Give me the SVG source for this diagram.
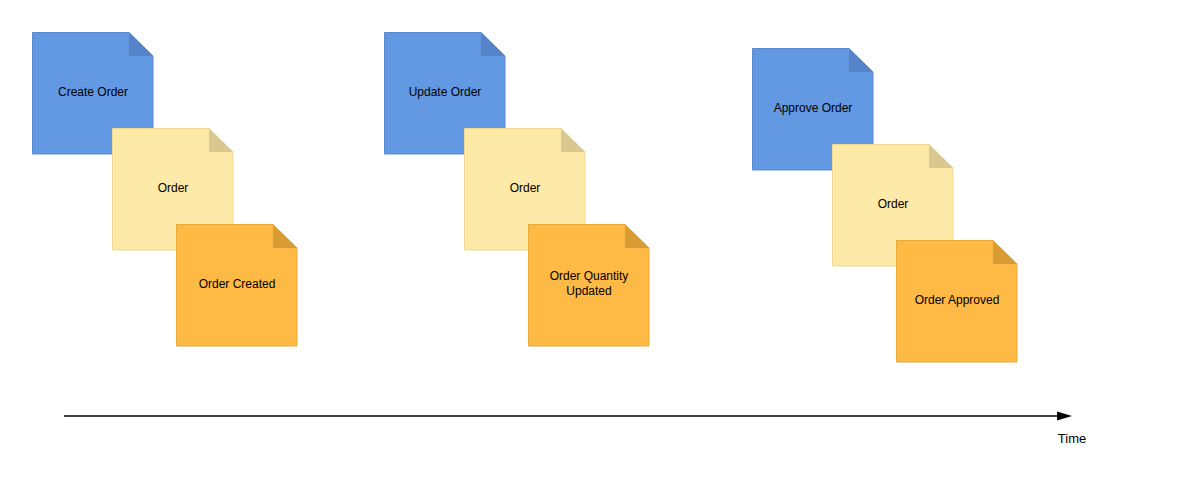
<svg xmlns="http://www.w3.org/2000/svg" width="1200" height="496" viewBox="0 0 1200 496">
<style>
text{font-family:"Liberation Sans",Arial,sans-serif;font-size:12px;fill:#000;text-anchor:middle}
.b .p{fill:#6399e3;stroke:#5a8ad0}.b .f{fill:#5585c8}
.y .p{fill:#feeaa8;stroke:#f0d890}.y .f{fill:#d9c78e}
.o .p{fill:#feba45;stroke:#e8a838}.o .f{fill:#d99c32}
</style>
<rect width="1200" height="496" fill="#fff"/>
<g id="n1" class="b" transform="translate(32,32)"><path class="p" d="M0.5,0.5H97L121,24V122H0.5Z"/><path class="f" d="M97,0.5L121,24H97Z"/><text x="61" y="64">Create Order</text></g>
<g id="n2" class="y" transform="translate(112,128)"><path class="p" d="M0.5,0.5H97L121,24V122H0.5Z"/><path class="f" d="M97,0.5L121,24H97Z"/><text x="61" y="64">Order</text></g>
<g id="n3" class="o" transform="translate(176,224)"><path class="p" d="M0.5,0.5H97L121,24V122H0.5Z"/><path class="f" d="M97,0.5L121,24H97Z"/><text x="61" y="64">Order Created</text></g>
<g id="n4" class="b" transform="translate(384,32)"><path class="p" d="M0.5,0.5H97L121,24V122H0.5Z"/><path class="f" d="M97,0.5L121,24H97Z"/><text x="61" y="64">Update Order</text></g>
<g id="n5" class="y" transform="translate(464,128)"><path class="p" d="M0.5,0.5H97L121,24V122H0.5Z"/><path class="f" d="M97,0.5L121,24H97Z"/><text x="61" y="64">Order</text></g>
<g id="n6" class="o" transform="translate(528,224)"><path class="p" d="M0.5,0.5H97L121,24V122H0.5Z"/><path class="f" d="M97,0.5L121,24H97Z"/><text x="61" y="56">Order Quantity</text><text x="61" y="71">Updated</text></g>
<g id="n7" class="b" transform="translate(752,48)"><path class="p" d="M0.5,0.5H97L121,24V122H0.5Z"/><path class="f" d="M97,0.5L121,24H97Z"/><text x="61" y="64">Approve Order</text></g>
<g id="n8" class="y" transform="translate(832,144)"><path class="p" d="M0.5,0.5H97L121,24V122H0.5Z"/><path class="f" d="M97,0.5L121,24H97Z"/><text x="61" y="64">Order</text></g>
<g id="n9" class="o" transform="translate(896,240)"><path class="p" d="M0.5,0.5H97L121,24V122H0.5Z"/><path class="f" d="M97,0.5L121,24H97Z"/><text x="61" y="64">Order Approved</text></g>
<g id="connectors">
<line x1="64" y1="416" x2="1058" y2="416" stroke="#000" stroke-width="1.5"/>
<path d="M1072,416L1057,411.5V420.5Z" fill="#000"/>
</g>
<text x="1072" y="443" style="font-size:13px">Time</text>
</svg>
